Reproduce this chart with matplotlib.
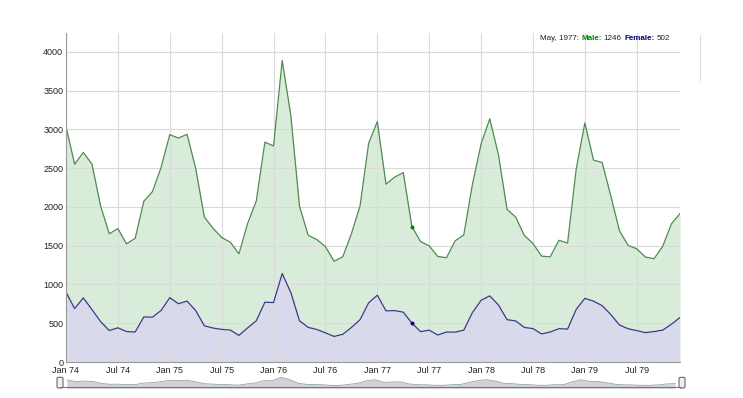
import numpy as np
import pandas as pd
import matplotlib.pyplot as plt
from matplotlib.patches import FancyBboxPatch

plt.rcParams['font.family'] = ['Liberation Sans', 'DejaVu Sans']

# monthly lung disease deaths, Jan 1974 - Dec 1979
male = [2134, 1863, 1877, 1877, 1492, 1249, 1280, 1131, 1209, 1492, 1621, 1846,
        2103, 2137, 2153, 1833, 1403, 1288, 1186, 1133, 1053, 1347, 1545, 2066,
        2020, 2750, 2283, 1479, 1189, 1160, 1113, 970, 999, 1208, 1467, 2059,
        2240, 1634, 1722, 1801, 1246, 1162, 1087, 1013, 959, 1179, 1229, 1655,
        2019, 2284, 1942, 1423, 1340, 1187, 1098, 1004, 970, 1140, 1110, 1812,
        2263, 1820, 1846, 1531, 1215, 1075, 1056, 975, 940, 1081, 1294, 1341]
female = [901, 689, 827, 677, 522, 406, 441, 393, 387, 582, 578, 666,
          830, 752, 785, 664, 467, 438, 421, 412, 343, 440, 531, 771,
          767, 1141, 896, 532, 447, 420, 376, 330, 357, 445, 546, 764,
          862, 660, 663, 643, 502, 392, 411, 348, 387, 385, 411, 638,
          796, 853, 737, 546, 530, 446, 431, 362, 387, 430, 425, 679,
          821, 785, 727, 612, 478, 429, 405, 379, 393, 411, 487, 574]
months = pd.date_range("1974-01-01", periods=len(male), freq="MS")
tick_labels = ["Jan 74", "Jul 74", "Jan 75", "Jul 75", "Jan 76", "Jul 76",
               "Jan 77", "Jul 77", "Jan 78", "Jul 78", "Jan 79", "Jul 79"]
hl_index = 40  # May 1977

x = np.arange(len(male))
f = np.array(female)
m_stack = f + np.array(male)

green = "#008000"
navy = "#000080"

fig = plt.figure(figsize=(7.43, 3.98), dpi=100)
ax = fig.add_axes([66 / 743, 1 - 362 / 398, 614 / 743, 329 / 398])

ax.fill_between(x, f, m_stack, color="#d9ecd9", lw=0)
ax.fill_between(x, 0, f, color="#d9d9ec", lw=0)
ax.plot(x, m_stack, color="#4f8a4f", lw=0.9)
ax.plot(x, f, color="#3a3a88", lw=0.9)
ax.plot(x[hl_index], m_stack[hl_index], "o", color=green, ms=2.8, mew=0)
ax.plot(x[hl_index], f[hl_index], "o", color=navy, ms=2.8, mew=0)

ax.set_xlim(0, len(male) - 1)
ax.set_ylim(0, 4245)
ax.set_xticks(x[::6])
ax.set_xticklabels(tick_labels)
ax.set_yticks(range(0, 4001, 500))
ax.grid(True, color="#dadada", lw=0.8)
for s in ["top", "right"]:
    ax.spines[s].set_visible(False)
for s in ["left", "bottom"]:
    ax.spines[s].set_color("#999999")
    ax.spines[s].set_linewidth(0.8)
ax.tick_params(length=0, labelsize=6.5, colors="#222222")
ax.tick_params(axis="x", pad=3)
ax.tick_params(axis="y", pad=2)

# legend text: coloured pieces laid out left to right, right edge at x=670
parts = [(months[hl_index].strftime("%b, %Y") + ":", "#222222", "normal"),
         ("Male:", green, "bold"),
         (str(male[hl_index]), "#222222", "normal"),
         ("Female:", navy, "bold"),
         (str(female[hl_index]), "#222222", "normal")]
fig.canvas.draw()
r = fig.canvas.get_renderer()
texts = [fig.text(0, 1 - 38 / 398, s, ha="left", va="center", fontsize=5.8,
                  color=c, fontweight=w) for s, c, w in parts]
widths = [t.get_window_extent(renderer=r).width for t in texts]
gap = 2.3
xp = 670 - sum(widths) - gap * (len(widths) - 1)
for t, w in zip(texts, widths):
    t.set_x(xp / 743)
    xp += w + gap

fig.add_artist(plt.Line2D([700 / 743, 700 / 743], [1 - 35 / 398, 1 - 80 / 398],
                          color="#dddddd", lw=0.8))

# range selector
ax2 = fig.add_axes([60 / 743, 1 - 388 / 398, 622 / 743, 12 / 398])
ax2.fill_between(x, 0, m_stack, color="#d0d2d8", lw=0)
ax2.plot(x, m_stack, color="#9a9fa8", lw=0.6)
ax2.set_xlim(-0.8, len(male) - 0.2)
ax2.set_ylim(500, 4300)
ax2.set_xticks([])
ax2.set_yticks([])
for s in ax2.spines.values():
    s.set_visible(False)
ax2.axhline(500, color="#777777", lw=1.5)
for hx in [-0.8, len(male) - 0.2]:
    ax2.add_patch(FancyBboxPatch((hx - 0.25, 700), 0.5, 3000,
                                 boxstyle="round,pad=0.1,rounding_size=0.2",
                                 fc="#eeeeee", ec="#555555", lw=0.7,
                                 clip_on=False, mutation_aspect=2000))

fig.savefig("out.png", dpi=100)
